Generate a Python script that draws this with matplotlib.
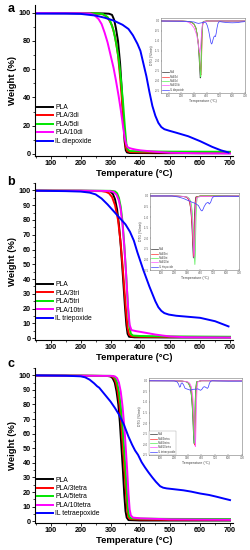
import matplotlib
matplotlib.use("Agg")
import matplotlib.pyplot as plt
from matplotlib.ticker import MultipleLocator, FormatStrFormatter

plt.rcParams['font.family'] = ['Liberation Sans', 'DejaVu Sans']

W_PX, H_PX = 250, 550

# ---------------- Panel a: TGA ----------------
a_labels = ["PLA", "PLA/3di", "PLA/5di", "PLA/10di", "IL diepoxide"]
a_T_pla = [40, 200, 280, 295, 305, 312, 318, 325, 332, 338, 343, 347, 351, 355, 365, 450, 700]
a_W_pla = [99.8, 99.7, 99.5, 99.3, 98.5, 95, 89, 80, 64, 44, 24, 9, 2.5, 1.0, 0.6, 0.5, 0.5]
a_T_3 = [40, 200, 260, 275, 285, 295, 305, 315, 325, 333, 340, 346, 351, 356, 365, 400, 500, 700]
a_W_3 = [99.8, 99.7, 99.4, 98.8, 97.5, 95, 91, 83, 70, 52, 33, 15, 5, 2, 1.3, 1.1, 1.0, 0.9]
a_T_5 = [40, 200, 260, 275, 290, 300, 310, 320, 328, 335, 342, 348, 353, 358, 365, 400, 500, 700]
a_W_5 = [99.8, 99.7, 99.5, 99, 97, 93.5, 87.5, 77, 66, 52, 36, 19, 7, 3, 2, 1.8, 1.6, 1.5]
a_T_10 = [40, 200, 230, 245, 260, 270, 280, 290, 300, 310, 318, 327, 335, 342, 347, 352, 356, 362, 370, 385, 400, 450, 500, 600, 700]
a_W_10 = [99.8, 99.7, 99.5, 98.5, 95.5, 92, 86, 79, 70, 61, 52, 41, 30, 19, 12, 7, 5, 4.2, 3.7, 3.0, 2.5, 1.5, 0.8, 0.4, 0.3]
a_T_il = [40, 150, 200, 250, 280, 310, 340, 360, 375, 390, 400, 410, 420, 430, 440, 450, 460, 470, 480, 495, 520, 560, 600, 640, 670, 695]
a_W_il = [99.4, 99.4, 99.2, 98, 96.5, 94.5, 91.5, 88.5, 84, 78, 73, 64, 55, 44, 34, 27, 22, 19, 17.5, 16.5, 15, 12.5, 9, 5, 2.5, 1]

# ---------------- Panel b: TGA ----------------
b_labels = ["PLA", "PLA/3tri", "PLA/5tri", "PLA/10tri", "IL triepoxide"]
b_T_pla = [40, 200, 290, 300, 308, 315, 322, 328, 334, 339, 343, 348, 353, 357, 362, 380, 500, 700]
b_W_pla = [99.8, 99.7, 99.6, 99.2, 97.5, 94, 87, 77, 63, 49, 37, 22, 9, 3, 1.0, 0.6, 0.5, 0.5]
b_T_3 = [40, 200, 270, 285, 295, 305, 315, 325, 333, 340, 346, 352, 357, 362, 370, 400, 500, 700]
b_W_3 = [99.8, 99.7, 99.5, 99, 98, 95.5, 90, 80, 66, 50, 34, 18, 7, 2.5, 1.3, 1.0, 0.9, 0.8]
b_T_5 = [40, 200, 300, 315, 322, 328, 334, 340, 346, 351, 355, 359, 363, 368, 375, 400, 500, 700]
b_W_5 = [99.8, 99.8, 99.7, 99.3, 98, 95, 89, 79, 63, 47, 33, 19, 8, 3, 1.8, 1.5, 1.2, 1.0]
b_T_10 = [40, 200, 295, 310, 320, 328, 334, 340, 346, 351, 355, 359, 364, 370, 385, 400, 425, 450, 475, 500, 550, 700]
b_W_10 = [99.8, 99.8, 99.6, 99, 97, 93, 87, 77, 62, 47, 33, 20, 9, 5.5, 4.8, 4.3, 3.4, 2.5, 1.8, 1.2, 0.7, 0.5]
b_T_il = [40, 150, 200, 230, 250, 270, 290, 310, 330, 350, 365, 378, 390, 400, 410, 420, 430, 440, 450, 460, 470, 480, 495, 520, 560, 600, 650, 695]
b_W_il = [99.8, 99.5, 99.2, 98.5, 97.3, 94.5, 90.5, 86, 81.5, 77, 72, 66, 58, 52, 46, 40.5, 35, 30, 25, 21, 18.5, 17, 16, 15.2, 14.5, 13.8, 11.5, 8]

# ---------------- Panel c: TGA ----------------
c_labels = ["PLA", "PLA/3tetra", "PLA/5tetra", "PLA/10tetra", "IL tetraepoxide"]
c_T_pla = [40, 200, 290, 300, 307, 314, 320, 326, 331, 336, 341, 346, 350, 354, 360, 400, 700]
c_W_pla = [99.8, 99.7, 99.5, 99.2, 98, 95, 89, 80, 68, 52, 36, 18, 7, 2.5, 0.8, 0.5, 0.5]
c_T_3 = [40, 200, 295, 305, 312, 318, 324, 330, 335, 340, 345, 350, 355, 359, 365, 400, 500, 700]
c_W_3 = [99.8, 99.7, 99.5, 99.2, 98, 95, 89, 80, 69, 55, 40, 24, 9, 3, 1.5, 1.2, 1.0, 1.0]
c_T_5 = [40, 200, 300, 310, 316, 322, 328, 334, 339, 344, 349, 354, 358, 362, 368, 400, 500, 700]
c_W_5 = [99.8, 99.7, 99.6, 99.3, 98, 95, 89, 79, 68, 54, 39, 22, 9, 3.5, 2, 1.8, 1.6, 1.5]
c_T_10 = [40, 200, 305, 315, 322, 328, 334, 340, 346, 351, 356, 360, 364, 368, 375, 400, 500, 700]
c_W_10 = [99.8, 99.7, 99.6, 99.2, 98, 95, 89, 79, 65, 50, 34, 19, 8, 4, 2.5, 2, 1.3, 1.0]
c_T_il = [40, 150, 200, 215, 230, 245, 255, 262, 270, 280, 290, 300, 315, 330, 345, 360, 372, 382, 392, 404, 415, 427, 440, 452, 466, 476, 488, 510, 544, 570, 600, 630, 655, 680, 700]
c_W_il = [100, 99.7, 99.3, 98.6, 97, 94.5, 92.5, 91.5, 89.5, 87, 84.5, 82, 77.5, 72.5, 66, 58, 52.5, 48.5, 45.5, 40.5, 37, 33.5, 30, 27, 24, 23, 22.5, 22, 21.2, 20.3, 19, 18, 16.8, 15.5, 14.5]

# ---------------- Inset a: DTG ----------------
ia_T_pla = [40, 200, 250, 280, 300, 315, 325, 333, 339, 344, 348, 351, 354, 357, 361, 366, 372, 400, 700]
ia_D_pla = [0, 0, -0.02, -0.06, -0.15, -0.35, -0.7, -1.2, -1.8, -2.4, -2.85, -2.8, -2.2, -1.4, -0.6, -0.15, -0.02, 0, 0]
ia_T_3 = [40, 200, 250, 280, 300, 315, 325, 333, 340, 346, 350, 354, 357, 360, 364, 368, 375, 400, 700]
ia_D_3 = [0, 0, -0.02, -0.07, -0.17, -0.38, -0.7, -1.1, -1.6, -2.2, -2.6, -2.7, -2.3, -1.6, -0.7, -0.2, -0.03, 0, 0]
ia_T_5 = [40, 200, 250, 280, 300, 315, 325, 333, 340, 346, 350, 353, 356, 359, 363, 367, 374, 400, 700]
ia_D_5 = [0, 0, -0.02, -0.06, -0.16, -0.36, -0.7, -1.15, -1.7, -2.3, -2.75, -2.8, -2.3, -1.5, -0.65, -0.18, -0.03, 0, 0]
ia_T_10 = [40, 200, 240, 260, 280, 300, 315, 325, 333, 340, 345, 350, 355, 360, 366, 375, 390, 420, 700]
ia_D_10 = [0, 0, -0.03, -0.08, -0.18, -0.35, -0.6, -0.85, -1.15, -1.45, -1.58, -1.35, -0.95, -0.5, -0.15, -0.05, -0.02, 0, 0]
ia_T_il = [40, 250, 300, 320, 335, 350, 365, 380, 395, 405, 415, 425, 432, 438, 442, 448, 455, 462, 468, 474, 480, 488, 495, 502, 520, 560, 600, 640, 670, 700]
ia_D_il = [0, -0.02, -0.05, -0.1, -0.12, -0.1, -0.08, -0.06, -0.1, -0.25, -0.5, -0.85, -1.08, -1.15, -1.1, -0.95, -0.8, -0.75, -0.78, -0.6, -0.35, -0.12, -0.05, -0.03, -0.05, -0.08, -0.09, -0.08, -0.05, -0.03]

# ---------------- Inset b: DTG ----------------
ib_T_pla = [10, 200, 260, 290, 305, 318, 327, 334, 339, 343, 346, 349, 352, 355, 359, 365, 400, 700]
ib_D_pla = [0, 0, -0.02, -0.05, -0.12, -0.3, -0.7, -1.3, -2.0, -2.6, -2.93, -2.6, -1.8, -1.0, -0.35, -0.05, 0, 0]
ib_T_3 = [10, 200, 260, 290, 305, 318, 328, 336, 342, 347, 350, 353, 356, 359, 363, 369, 400, 700]
ib_D_3 = [0, 0, -0.02, -0.05, -0.12, -0.3, -0.7, -1.3, -2.0, -2.55, -2.85, -2.6, -1.8, -1.0, -0.35, -0.05, 0, 0]
ib_T_5 = [10, 200, 270, 300, 315, 328, 337, 345, 350, 354, 358, 361, 364, 367, 371, 377, 400, 700]
ib_D_5 = [0, 0, -0.02, -0.05, -0.12, -0.3, -0.7, -1.4, -2.1, -2.8, -3.24, -2.8, -1.9, -1.0, -0.35, -0.05, 0, 0]
ib_T_10 = [10, 200, 265, 295, 310, 322, 331, 339, 344, 348, 352, 355, 358, 361, 366, 373, 400, 700]
ib_D_10 = [0, 0, -0.02, -0.05, -0.12, -0.3, -0.7, -1.3, -2.0, -2.55, -2.9, -2.6, -1.8, -1.0, -0.35, -0.08, -0.03, 0]
ib_T_il = [10, 180, 230, 270, 300, 330, 360, 385, 398, 408, 415, 422, 430, 445, 460, 470, 480, 492, 505, 600, 700]
ib_D_il = [0, 0, -0.05, -0.12, -0.2, -0.28, -0.35, -0.45, -0.6, -0.7, -0.7, -0.62, -0.5, -0.35, -0.3, -0.38, -0.3, -0.1, -0.02, -0.01, -0.02]

# ---------------- Inset c: DTG ----------------
ic_T_pla = [15, 200, 260, 290, 305, 318, 327, 334, 339, 343, 346, 349, 352, 355, 359, 365, 400, 700]
ic_D_pla = [0, 0, -0.02, -0.05, -0.12, -0.3, -0.7, -1.3, -2.0, -2.6, -2.95, -2.6, -1.8, -1.0, -0.35, -0.05, 0, 0]
ic_T_3 = [15, 200, 265, 295, 310, 323, 332, 339, 344, 348, 351, 354, 357, 360, 364, 370, 400, 700]
ic_D_3 = [0, 0, -0.02, -0.05, -0.12, -0.3, -0.7, -1.3, -2.0, -2.6, -3.03, -2.7, -1.9, -1.0, -0.35, -0.05, 0, 0]
ic_T_5 = [15, 200, 262, 292, 307, 320, 329, 336, 341, 345, 348, 351, 354, 357, 361, 367, 400, 700]
ic_D_5 = [0, 0, -0.02, -0.05, -0.12, -0.3, -0.7, -1.3, -2.0, -2.6, -2.95, -2.65, -1.85, -1.0, -0.35, -0.05, 0, 0]
ic_T_10 = [15, 200, 270, 300, 315, 328, 337, 344, 349, 353, 356, 359, 362, 365, 369, 375, 400, 700]
ic_D_10 = [0, 0, -0.02, -0.05, -0.12, -0.3, -0.7, -1.3, -2.0, -2.65, -3.1, -2.75, -1.9, -1.0, -0.35, -0.05, 0, 0]
ic_T_il = [15, 200, 220, 232, 240, 246, 252, 260, 270, 280, 290, 300, 310, 320, 330, 345, 360, 375, 385, 395, 405, 415, 425, 435, 445, 452, 460, 468, 480, 520, 600, 700]
ic_D_il = [0, -0.01, -0.04, -0.15, -0.3, -0.28, -0.12, -0.1, -0.2, -0.35, -0.38, -0.4, -0.42, -0.45, -0.42, -0.4, -0.4, -0.38, -0.42, -0.45, -0.4, -0.3, -0.28, -0.32, -0.36, -0.3, -0.12, -0.03, 0, -0.01, -0.02, -0.02]

colors = ["#000000", "#ff0000", "#00e600", "#ff00ff", "#0000ff"]
inset_colors = ["#333333", "#ff3030", "#55ee55", "#ff55ff", "#4444ff"]

fig = plt.figure(figsize=(W_PX / 100, H_PX / 100), dpi=100)


def rect(x0, y0, x1, y1):
    return [x0 / W_PX, 1 - y1 / H_PX, (x1 - x0) / W_PX, (y1 - y0) / H_PX]


def main_panel(r, ylim, ymaj, curves, labels, letter, letter_xy, leg_top):
    ax = fig.add_axes(rect(*r))
    for (T, Wt), c, lab in zip(curves, colors, labels):
        ax.plot(T, Wt, color=c, lw=1.4, label=lab, solid_joinstyle='round')
    ax.set_xlim(47, 710)
    ax.set_ylim(*ylim)
    ax.spines['top'].set_visible(False)
    ax.spines['right'].set_visible(False)
    for s in ['left', 'bottom']:
        ax.spines[s].set_linewidth(0.8)
    ax.xaxis.set_minor_locator(MultipleLocator(50))
    ax.yaxis.set_major_locator(MultipleLocator(ymaj))
    ax.yaxis.set_minor_locator(MultipleLocator(ymaj / 2))
    ax.set_xticks([100, 200, 300, 400, 500, 600, 700])
    ax.tick_params(axis='both', which='major', direction='out', length=2, width=0.6,
                   labelsize=5.2, pad=1)
    ax.tick_params(axis='both', which='minor', direction='out', length=1.2, width=0.5)
    for t in ax.get_xticklabels() + ax.get_yticklabels():
        t.set_fontweight('bold')
    ax.set_xlabel("Temperature (°C)", fontsize=6.8, fontweight='bold', labelpad=1.2)
    ax.set_ylabel("Weight (%)", fontsize=6.8, fontweight='bold', labelpad=1.0)
    leg = ax.legend(loc='upper left', bbox_to_anchor=(0.012, leg_top), frameon=False,
                    fontsize=4.9, handlelength=2.3, handletextpad=0.35, labelspacing=0.22,
                    borderpad=0, borderaxespad=0)
    for l in leg.get_lines():
        l.set_linewidth(1.4)
    fig.text(letter_xy[0] / W_PX, 1 - letter_xy[1] / H_PX, letter, fontsize=9,
             fontweight='bold', ha='left', va='center')
    return ax


def inset(r, xlim, ylim, curves, labels, leg_frame):
    ax = fig.add_axes(rect(*r))
    for (T, D), c, lab in zip(curves, inset_colors, labels):
        ax.plot(T, D, color=c, lw=0.55, label=lab)
    ax.set_xlim(*xlim)
    ax.set_ylim(*ylim)
    ax.set_xticks([100, 200, 300, 400, 500, 600, 700])
    ax.set_yticks([0, -0.5, -1.0, -1.5, -2.0, -2.5, -3.0, -3.5])
    ax.yaxis.set_major_formatter(FormatStrFormatter('%.1f'))
    ax.tick_params(axis='both', direction='in', length=1, width=0.3, labelsize=2.2,
                   pad=0.8, colors='#555555')
    for s in ax.spines.values():
        s.set_linewidth(0.4)
        s.set_color('#777777')
    ax.set_xlabel("Temperature (°C)", fontsize=2.6, labelpad=0.8, color='#444444')
    ax.set_ylabel("DTG (%/min)", fontsize=2.4, labelpad=0.8, color='#444444')
    leg = ax.legend(loc='lower left', frameon=leg_frame, fontsize=1.9, handlelength=2.5,
                    handletextpad=0.4, labelspacing=0.15, borderpad=0.3, borderaxespad=0.15)
    if leg_frame:
        leg.get_frame().set_linewidth(0.3)
        leg.get_frame().set_edgecolor('#888888')
        leg.get_frame().set_boxstyle('square', pad=0)
    for l in leg.get_lines():
        l.set_linewidth(0.5)
    for t in leg.get_texts():
        t.set_color('#444444')
    return ax


main_panel((35, 5, 233, 156), (-1.5, 105.5), 20,
           [(a_T_pla, a_W_pla), (a_T_3, a_W_3), (a_T_5, a_W_5), (a_T_10, a_W_10), (a_T_il, a_W_il)],
           a_labels, "a", (8, 9), 0.345)
main_panel((35, 183, 233, 340), (-1.2, 105), 10,
           [(b_T_pla, b_W_pla), (b_T_3, b_W_3), (b_T_5, b_W_5), (b_T_10, b_W_10), (b_T_il, b_W_il)],
           b_labels, "b", (7, 182), 0.375)
main_panel((35, 368, 233, 523), (-1.2, 105), 10,
           [(c_T_pla, c_W_pla), (c_T_3, c_W_3), (c_T_5, c_W_5), (c_T_10, c_W_10), (c_T_il, c_W_il)],
           c_labels, "c", (7, 364), 0.3)

inset((161, 18, 245, 93), (40, 700), (-3.6, 0.15),
      [(ia_T_pla, ia_D_pla), (ia_T_3, ia_D_3), (ia_T_5, ia_D_5), (ia_T_10, ia_D_10), (ia_T_il, ia_D_il)],
      a_labels, False)
inset((150, 193, 239, 270), (10, 700), (-3.47, 0.14),
      [(ib_T_pla, ib_D_pla), (ib_T_3, ib_D_3), (ib_T_5, ib_D_5), (ib_T_10, ib_D_10), (ib_T_il, ib_D_il)],
      b_labels, False)
inset((149, 378, 242, 455), (15, 700), (-3.5, 0.13),
      [(ic_T_pla, ic_D_pla), (ic_T_3, ic_D_3), (ic_T_5, ic_D_5), (ic_T_10, ic_D_10), (ic_T_il, ic_D_il)],
      c_labels, True)

fig.savefig("out.png", dpi=100)
